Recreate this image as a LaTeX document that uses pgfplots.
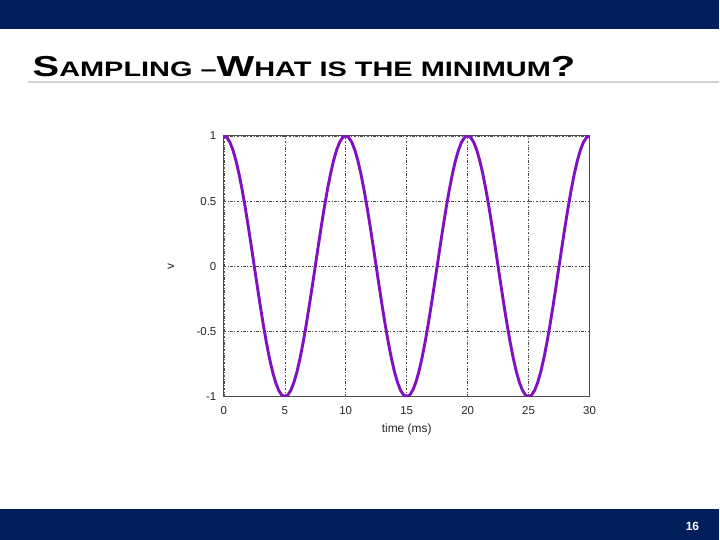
\documentclass[border=0pt]{standalone}
\usepackage{pgfplots}
\pgfplotsset{compat=1.18}
\usepackage{fontspec}
\setmainfont{Liberation Sans}
\definecolor{navy}{RGB}{0,31,90}
\definecolor{curve}{RGB}{128,16,192}
\begin{document}
\begin{tikzpicture}[x=1bp,y=1bp]
\fill[white] (0,0) rectangle (720,540);
\fill[navy] (0,540) rectangle (720,511);
\fill[navy] (0,0) rectangle (720,30.5);
\node[white,font=\fontsize{12}{14}\selectfont\bfseries] at (693,13.5) {16};
\draw[gray!35,line width=1.2bp] (28,458) -- (720,458);
\node[anchor=base west,inner sep=0pt,font=\fontsize{21}{24}\selectfont\bfseries] at (32.5,463)
  {\resizebox{543bp}{\height}{{\fontsize{29}{30}\selectfont S}AMPLING --{\fontsize{29}{30}\selectfont W}HAT IS THE MINIMUM{\fontsize{29}{30}\selectfont ?}}};
\begin{axis}[
  at={(224bp,143bp)}, anchor=south west,
  scale only axis, width=366bp, height=261bp,
  xmin=0, xmax=30, ymin=-1, ymax=1,
  xtick={0,5,...,30}, ytick={-1,-0.5,0,0.5,1},
  yticklabels={-1,-0.5,0,0.5,1},
  major tick length=0pt,
  axis line style={black!70,line width=0.8bp},
  grid=major,
  major grid style={black!70,line width=0.5bp,dash pattern=on 2.5bp off 1.5bp on 1bp off 1.5bp},
  tick label style={font=\fontsize{11.5}{13}\selectfont, text=black!85},
  /pgf/number format/assume math mode=true,
  xticklabel style={yshift=-6bp},
  yticklabel style={xshift=-4bp},
]
\addplot[curve, line width=2.9bp, line join=round] coordinates {
(0,1) (0.25,0.98769) (0.5,0.95106) (0.75,0.89101) (1,0.80902) (1.25,0.70711) (1.5,0.58779) (1.75,0.45399) (2,0.30902) (2.25,0.15643) (2.5,0) (2.75,-0.15643) (3,-0.30902) (3.25,-0.45399) (3.5,-0.58779) (3.75,-0.70711) (4,-0.80902) (4.25,-0.89101) (4.5,-0.95106) (4.75,-0.98769) (5,-1) (5.25,-0.98769) (5.5,-0.95106) (5.75,-0.89101) (6,-0.80902) (6.25,-0.70711) (6.5,-0.58779) (6.75,-0.45399) (7,-0.30902) (7.25,-0.15643) (7.5,0) (7.75,0.15643) (8,0.30902) (8.25,0.45399) (8.5,0.58779) (8.75,0.70711) (9,0.80902) (9.25,0.89101) (9.5,0.95106) (9.75,0.98769)
(10,1) (10.25,0.98769) (10.5,0.95106) (10.75,0.89101) (11,0.80902) (11.25,0.70711) (11.5,0.58779) (11.75,0.45399) (12,0.30902) (12.25,0.15643) (12.5,0) (12.75,-0.15643) (13,-0.30902) (13.25,-0.45399) (13.5,-0.58779) (13.75,-0.70711) (14,-0.80902) (14.25,-0.89101) (14.5,-0.95106) (14.75,-0.98769) (15,-1) (15.25,-0.98769) (15.5,-0.95106) (15.75,-0.89101) (16,-0.80902) (16.25,-0.70711) (16.5,-0.58779) (16.75,-0.45399) (17,-0.30902) (17.25,-0.15643) (17.5,0) (17.75,0.15643) (18,0.30902) (18.25,0.45399) (18.5,0.58779) (18.75,0.70711) (19,0.80902) (19.25,0.89101) (19.5,0.95106) (19.75,0.98769)
(20,1) (20.25,0.98769) (20.5,0.95106) (20.75,0.89101) (21,0.80902) (21.25,0.70711) (21.5,0.58779) (21.75,0.45399) (22,0.30902) (22.25,0.15643) (22.5,0) (22.75,-0.15643) (23,-0.30902) (23.25,-0.45399) (23.5,-0.58779) (23.75,-0.70711) (24,-0.80902) (24.25,-0.89101) (24.5,-0.95106) (24.75,-0.98769) (25,-1) (25.25,-0.98769) (25.5,-0.95106) (25.75,-0.89101) (26,-0.80902) (26.25,-0.70711) (26.5,-0.58779) (26.75,-0.45399) (27,-0.30902) (27.25,-0.15643) (27.5,0) (27.75,0.15643) (28,0.30902) (28.25,0.45399) (28.5,0.58779) (28.75,0.70711) (29,0.80902) (29.25,0.89101) (29.5,0.95106) (29.75,0.98769)
(30,1)
};
\end{axis}
\node[font=\fontsize{12}{14}\selectfont, text=black!85] at (407,110) {time (ms)};
\node[font=\fontsize{12}{14}\selectfont, text=black!85, rotate=90] at (171,273) {v};
\end{tikzpicture}
\end{document}
